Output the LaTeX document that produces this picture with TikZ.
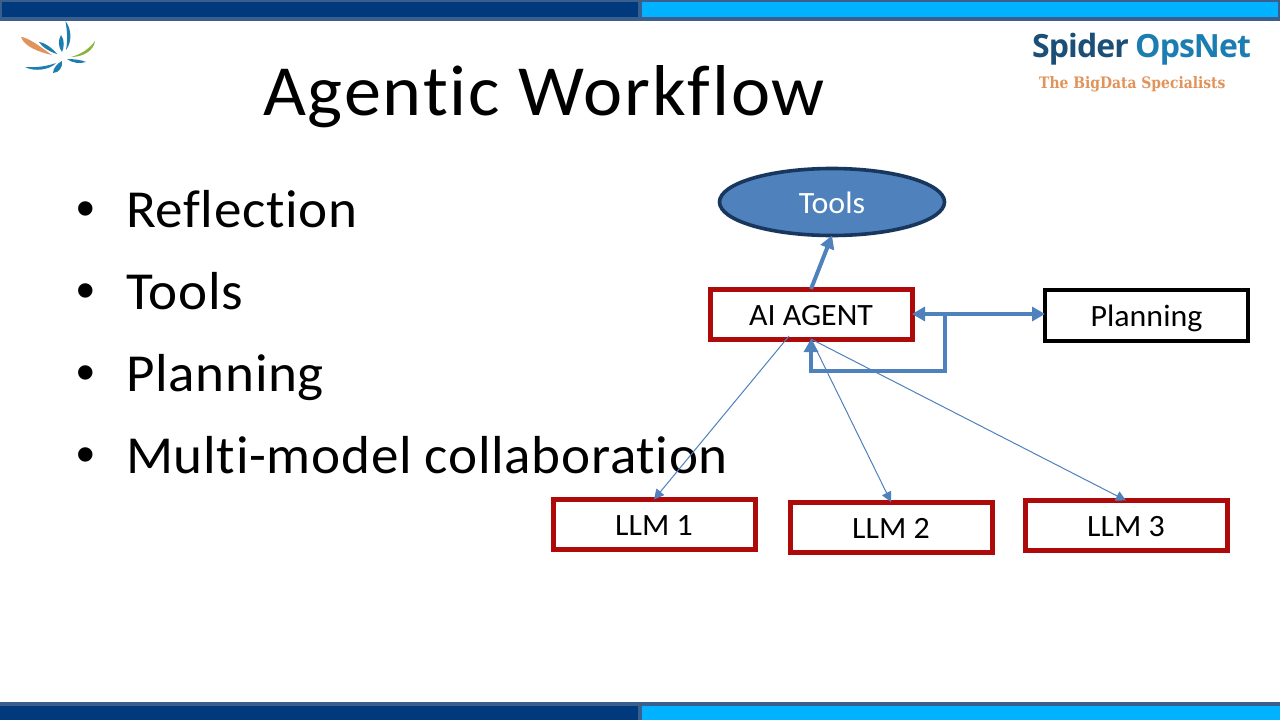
\documentclass[tikz,border=0pt]{standalone}
\usepackage{fontspec}
\setmainfont[Ligatures={NoCommon},FakeStretch=1.03]{Carlito}
\newfontfamily\bulletfont{Liberation Sans}
\newfontfamily\logofont{Open Sans}
\newfontfamily\tagfont[FakeStretch=0.88]{DejaVu Serif}
\usetikzlibrary{arrows.meta,calc,shapes.geometric}
\definecolor{barframe}{HTML}{3A5F8F}
\definecolor{bardark}{HTML}{003A7C}
\definecolor{barlight}{HTML}{00B2FF}
\definecolor{linkblue}{HTML}{4F81BD}
\definecolor{boxred}{HTML}{AE0A0A}
\definecolor{ovalline}{HTML}{17375E}
\definecolor{logodark}{HTML}{1B4F78}
\definecolor{logoblue}{HTML}{1B7DB0}
\definecolor{logoorange}{HTML}{E0935A}
\definecolor{logogreen}{HTML}{8DB33C}
\newcommand{\lowered}[2][1.2pt]{\raisebox{-#1}[\height][\depth]{#2}}
\tikzset{
  x=1pt,y=-1pt,
  redbox/.style={draw=boxred,line width=5pt,minimum width=202pt,minimum height=50pt,inner sep=0pt,outer sep=0pt,font=\fontsize{31}{34}\selectfont,text=black},
  blackbox/.style={draw=black,line width=3.6pt,minimum width=203pt,minimum height=51pt,inner sep=0pt,outer sep=0pt,font=\fontsize{31}{34}\selectfont,text=black},
  oval/.style={ellipse,draw=ovalline,fill=linkblue,line width=3.6pt,minimum width=225pt,minimum height=67pt,inner sep=0pt,outer sep=0pt,font=\fontsize{31}{34}\selectfont,text=white},
  thicklink/.style={draw=linkblue,line width=4pt,-{Triangle[length=13pt,width=14pt]}},
  doublelink/.style={draw=linkblue,line width=4pt,{Triangle[length=13pt,width=14pt]}-{Triangle[length=13pt,width=14pt]}},
  thinlink/.style={draw=linkblue,line width=1pt,-{Triangle[length=10pt,width=10pt]}},
  bullettext/.style={anchor=base west,inner sep=0pt,font=\fontsize{53.5}{60}\selectfont\addfontfeature{LetterSpace=1.3},text=black},
  bulletmark/.style={anchor=base,inner sep=0pt,font=\bulletfont\fontsize{53}{60}\selectfont,text=black}
}
\begin{document}
\begin{tikzpicture}
\useasboundingbox (0,0) rectangle (1280,720);
\fill[white] (0,0) rectangle (1280,720);
% bars
\fill[barframe] (0,0) rectangle (1280,21);
\fill[bardark] (2,2) rectangle (638,17);
\fill[barlight] (642,2) rectangle (1278,17);
\fill[barframe] (0,702) rectangle (1280,720);
\fill[bardark] (0,706) rectangle (638,720);
\fill[barlight] (642,706) rectangle (1280,720);
% logo left
\fill[logoblue] (65.5,21) .. controls (72,30) and (72,42) .. (66,50) .. controls (68,40) and (67,30) .. cycle;
\fill[logoblue] (61,35) .. controls (65,40) and (64,48) .. (62,52) .. controls (58,47) and (58,40) .. cycle;
\fill[logoorange] (21,37) .. controls (28,37) and (42,48) .. (52,55) .. controls (38,52) and (24,46) .. cycle;
\fill[logoblue] (39,42) .. controls (46,43) and (53,49) .. (57,54) .. controls (50,52) and (42,47) .. cycle;
\fill[logogreen] (95,41) .. controls (94,50) and (84,57) .. (71,57) .. controls (82,54) and (90,48) .. cycle;
\fill[logoblue] (67,59) .. controls (74,59) and (82,60) .. (86,62) .. controls (80,64) and (72,63) .. cycle;
\fill[logoblue] (25,67) .. controls (36,68) and (48,66) .. (56,63) .. controls (50,70) and (34,72) .. cycle;
\fill[logoblue] (53,73) .. controls (53,68) and (58,63) .. (62,61) .. controls (63,67) and (59,73) .. cycle;
% logo right
\node[anchor=base west,inner sep=0pt,font=\logofont\bfseries\fontsize{32}{34}\selectfont\addfontfeature{LetterSpace=-3},text=logodark] (brand1) at (1032,57) {Spider};
\node[anchor=base west,inner sep=0pt,font=\logofont\bfseries\fontsize{32}{34}\selectfont\addfontfeature{LetterSpace=-3},text=logoblue] (brand2) at (1135,57) {OpsNet};
\node[anchor=base west,inner sep=0pt,font=\tagfont\bfseries\fontsize{15.8}{18}\selectfont,text=logoorange] (tagline) at (1039,88) {The BigData Specialists};
% title
\node[anchor=base west,inner sep=0pt,font=\fontsize{72}{80}\selectfont\addfontfeature{LetterSpace=2.6},text=black] (title) at (263,115) {Agentic Workflow};
% bullets
\node[bulletmark] (b1) at (86,226) {•};
\node[bullettext] (t1) at (126,227.5) {Reflection};
\node[bulletmark] (b2) at (86,308) {•};
\node[bullettext] (t2) at (126,309.5) {Tools};
\node[bulletmark] (b3) at (86,390) {•};
\node[bullettext] (t3) at (126,391.5) {Planning};
\node[bulletmark] (b4) at (86,472) {•};
\node[bullettext] (t4) at (126,473.5) {Multi-model collaboration};
% diagram
\node[oval] (tools) at (832,202) {\lowered{Tools}};
\node[redbox] (agent) at (811,314) {\lowered{AI AGENT}};
\node[blackbox] (planning) at (1146.5,315.5) {\lowered[2.5pt]{Planning}};
\node[redbox] (llm1) at (654,524.5) {\lowered{LLM 1}};
\node[redbox] (llm2) at (891,527) {\lowered{LLM 2}};
\node[redbox] (llm3) at (1126,525.5) {\lowered{LLM 3}};
\coordinate (junction) at (945,314);
\coordinate (corner) at (945,371);
\coordinate (under) at (811,371);
\coordinate (inner) at (789,336);
\path[thicklink] (agent.north) -- (tools.south);
\path[doublelink] (agent.east) -- (agent.east -| planning.west);
\path[thicklink,line join=miter] (junction) -- (corner) -- (under) -- (agent.south);
\path[thinlink] (inner) -- (llm1.north);
\path[thinlink] (agent.south) -- (llm2.north);
\path[thinlink] (agent.south) -- (llm3.north);
\end{tikzpicture}
\end{document}
